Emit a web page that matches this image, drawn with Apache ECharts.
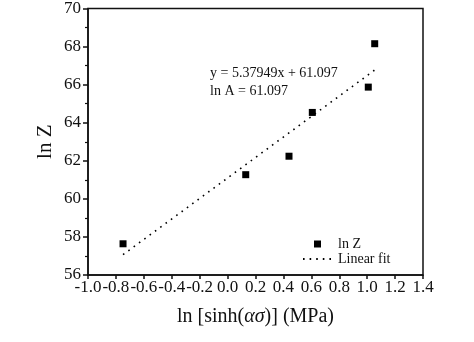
<!DOCTYPE html>
<html>
<head>
<meta charset="utf-8">
<script src="https://cdn.jsdelivr.net/npm/echarts@6/dist/echarts.min.js"></script>
<style>
  html, body { margin: 0; padding: 0; background: #fff; }
  #chart { width: 474px; height: 342px; }
</style>
</head>
<body>
<div id="chart"></div>
<script>
// Measured points: ln[sinh(alpha*sigma)] vs ln Z
const lnSinh = [-0.749, 0.13, 0.44, 0.607, 1.008, 1.054];
const lnZ = [57.64, 61.27, 62.24, 64.54, 65.87, 68.15];

// Linear fit parameters as quoted in the annotation
const fitSlope = 5.37949;
const fitIntercept = 61.097;
const fitRange = [-0.749, 1.054];

const xTicks = { min: -1.0, max: 1.4, interval: 0.2 };
const yTicks = { min: 56, max: 70, interval: 2 };

const FONT = "'Liberation Serif', 'Times New Roman', serif";
const INK = '#111';

const points = lnSinh.map((x, i) => [x, lnZ[i]]);
const fitLine = fitRange.map(x => [x, fitSlope * x + fitIntercept]);

const chart = echarts.init(document.getElementById('chart'), null, { renderer: 'canvas' });

const legendText = { fontFamily: FONT, fontSize: 14, color: INK };

chart.setOption({
  animation: false,
  backgroundColor: '#fff',
  grid: {
    left: 88, right: 51, top: 6, bottom: 67,
    show: true, borderColor: INK, borderWidth: 1.5,
    containLabel: false
  },
  xAxis: {
    type: 'value',
    min: xTicks.min, max: xTicks.max, interval: xTicks.interval,
    name: 'ln [sinh({i|ασ})] (MPa)',
    nameLocation: 'middle',
    nameGap: 32,
    nameTextStyle: {
      fontFamily: FONT, fontSize: 20, color: INK,
      rich: { i: { fontFamily: FONT, fontSize: 20, fontStyle: 'italic', color: INK } }
    },
    axisLine: { show: true, onZero: false, lineStyle: { color: INK, width: 1.5 } },
    axisTick: { show: true, inside: false, length: 4, lineStyle: { color: INK, width: 1.5 } },
    minorTick: { show: false },
    splitLine: { show: false },
    axisLabel: {
      margin: 4, fontFamily: FONT, fontSize: 17, color: INK,
      showMinLabel: true, showMaxLabel: true,
      formatter: v => v.toFixed(1)
    }
  },
  yAxis: {
    type: 'value',
    min: yTicks.min, max: yTicks.max, interval: yTicks.interval,
    name: 'ln Z',
    nameLocation: 'middle',
    nameMoveOverlap: false,
    nameGap: 32,
    nameTextStyle: { fontFamily: FONT, fontSize: 21, color: INK },
    axisLine: { show: true, onZero: false, lineStyle: { color: INK, width: 1.5 } },
    axisTick: { show: true, inside: false, length: 5, lineStyle: { color: INK, width: 1.5 } },
    minorTick: { show: true, splitNumber: 2, length: 3, lineStyle: { color: INK, width: 1.2 } },
    splitLine: { show: false },
    axisLabel: {
      margin: 7, fontFamily: FONT, fontSize: 17, color: INK,
      showMinLabel: true, showMaxLabel: true
    }
  },
  legend: [
    {
      orient: 'vertical',
      left: 314, top: 237,
      padding: 0,
      itemWidth: 7, itemHeight: 7,
      textStyle: Object.assign({ padding: [0, 0, 0, 12] }, legendText),
      data: [{ name: 'ln Z', icon: 'rect', itemStyle: { color: '#000', opacity: 1 } }]
    },
    {
      orient: 'vertical',
      left: 302, top: 252,
      padding: 0,
      itemWidth: 32, itemHeight: 12,
      textStyle: Object.assign({ padding: [0, 0, 0, -2] }, legendText),
      data: [{ name: 'Linear fit', itemStyle: { opacity: 0 } }]
    }
  ],
  series: [
    {
      name: 'ln Z',
      type: 'scatter',
      symbol: 'rect',
      symbolSize: 7,
      itemStyle: { color: '#000', opacity: 1 },
      data: points,
      z: 3
    },
    {
      name: 'Linear fit',
      type: 'line',
      symbol: 'none',
      showSymbol: false,
      lineStyle: { color: '#000', width: 1.6, type: [1.6, 5] },
      itemStyle: { color: '#000' },
      data: fitLine,
      z: 2
    }
  ],
  graphic: [
    {
      type: 'text', left: 210, top: 64,
      style: {
        text: 'y = 5.37949x + 61.097\nln A = 61.097',
        font: '14px ' + FONT, fill: INK, lineHeight: 18
      }
    }
  ]
});
</script>
</body>
</html>
